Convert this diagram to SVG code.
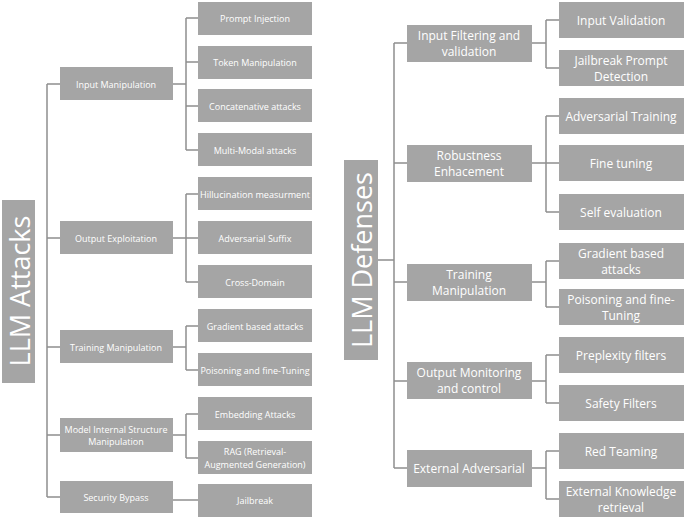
<svg xmlns="http://www.w3.org/2000/svg" width="685" height="520" viewBox="0 0 685 520">
<style>
rect{fill:#a5a5a5}
.c path{stroke:#8f8f8f;stroke-width:1.5;fill:none}
text{fill:#fff;font-family:"Open Sans","Liberation Sans",sans-serif;text-anchor:middle;dominant-baseline:central}
.s{font-size:9px}
.m{font-size:12px}
.r{font-size:27px}
</style>
<rect width="685" height="520" style="fill:#fff"/>
<g class="c">
<path d="M47 84V497M47 84H60M47 238H60M47 347H60M47 435H60M47 497H60"/>
<path d="M173 84H186M186 18V150M186 18H198M186 62H198M186 106H198M186 150H198"/>
<path d="M173 238H198M186 194V282M186 194H198M186 282H198"/>
<path d="M173 347H186M186 326V370M186 326H198M186 370H198"/>
<path d="M173 435H186M186 414V458M186 414H198M186 458H198"/>
<path d="M173 500H198"/>
<path d="M378 260H394M394 43V468M394 43H407M394 163H407M394 282H407M394 381H407M394 468H407"/>
<path d="M532 43H546M546 20V68M546 20H559M546 68H559"/>
<path d="M532 163H559M546 116V212M546 116H559M546 212H559"/>
<path d="M532 282H546M546 261V307M546 261H559M546 307H559"/>
<path d="M532 381H546M546 355V403M546 355H559M546 403H559"/>
<path d="M532 468H546M546 451V499M546 451H559M546 499H559"/>
</g>
<g id="attacks"><rect x="2" y="200" width="33" height="183"/><text class="r" transform="translate(19 291) rotate(-90)">LLM Attacks</text></g>
<g id="a1"><rect x="60" y="67" width="113" height="33"/><text class="s" x="116" y="84">Input Manipulation</text></g>
<g id="a2"><rect x="60" y="221" width="113" height="33"/><text class="s" x="116" y="238">Output Exploitation</text></g>
<g id="a3"><rect x="60" y="330" width="113" height="33"/><text class="s" x="116" y="347">Training Manipulation</text></g>
<g id="a4"><rect x="60" y="418" width="113" height="34"/><text class="s" x="116" y="429">Model Internal Structure</text><text class="s" x="116" y="441">Manipulation</text></g>
<g id="a5"><rect x="60" y="481" width="113" height="32"/><text class="s" x="116" y="497">Security Bypass</text></g>
<g id="b1"><rect x="198" y="2" width="114" height="33"/><text class="s" x="255" y="18">Prompt Injection</text></g>
<g id="b2"><rect x="198" y="46" width="114" height="33"/><text class="s" x="255" y="62">Token Manipulation</text></g>
<g id="b3"><rect x="198" y="89" width="114" height="33"/><text class="s" x="255" y="106">Concatenative attacks</text></g>
<g id="b4"><rect x="198" y="133" width="114" height="33"/><text class="s" x="255" y="150">Multi-Modal attacks</text></g>
<g id="b5"><rect x="198" y="177" width="114" height="33"/><text class="s" x="255" y="194" textLength="110" lengthAdjust="spacingAndGlyphs">Hillucination measurment</text></g>
<g id="b6"><rect x="198" y="221" width="114" height="33"/><text class="s" x="255" y="238">Adversarial Suffix</text></g>
<g id="b7"><rect x="198" y="265" width="114" height="33"/><text class="s" x="255" y="282">Cross-Domain</text></g>
<g id="b8"><rect x="198" y="309" width="114" height="33"/><text class="s" x="255" y="326">Gradient based attacks</text></g>
<g id="b9"><rect x="198" y="353" width="114" height="33"/><text class="s" x="255" y="370">Poisoning and fine-Tuning</text></g>
<g id="b10"><rect x="198" y="397" width="114" height="33"/><text class="s" x="255" y="414">Embedding Attacks</text></g>
<g id="b11"><rect x="198" y="441" width="114" height="33"/><text class="s" x="255" y="451">RAG (Retrieval-</text><text class="s" x="255" y="464">Augmented Generation)</text></g>
<g id="b12"><rect x="198" y="484" width="114" height="33"/><text class="s" x="255" y="500">Jailbreak</text></g>
<g id="defenses"><rect x="344" y="160" width="34" height="200"/><text class="r" transform="translate(361 260) rotate(-90)">LLM Defenses</text></g>
<g id="d1"><rect x="407" y="25" width="125" height="37"/><text class="m" x="469" y="35">Input Filtering and</text><text class="m" x="469" y="51">validation</text></g>
<g id="d2"><rect x="407" y="145" width="125" height="37"/><text class="m" x="469" y="155">Robustness</text><text class="m" x="469" y="171">Enhacement</text></g>
<g id="d3"><rect x="407" y="264" width="125" height="37"/><text class="m" x="469" y="274">Training</text><text class="m" x="469" y="290">Manipulation</text></g>
<g id="d4"><rect x="407" y="362" width="125" height="37"/><text class="m" x="469" y="372">Output Monitoring</text><text class="m" x="469" y="388">and control</text></g>
<g id="d5"><rect x="407" y="450" width="125" height="37"/><text class="m" x="469" y="468">External Adversarial</text></g>
<g id="e1"><rect x="559" y="2" width="125" height="36"/><text class="m" x="621" y="20">Input Validation</text></g>
<g id="e2"><rect x="559" y="50" width="125" height="36"/><text class="m" x="621" y="60">Jailbreak Prompt</text><text class="m" x="621" y="76">Detection</text></g>
<g id="e3"><rect x="559" y="98" width="125" height="36"/><text class="m" x="621" y="116">Adversarial Training</text></g>
<g id="e4"><rect x="559" y="145" width="125" height="36"/><text class="m" x="621" y="163">Fine tuning</text></g>
<g id="e5"><rect x="559" y="194" width="125" height="36"/><text class="m" x="621" y="212">Self evaluation</text></g>
<g id="e6"><rect x="559" y="243" width="125" height="36"/><text class="m" x="621" y="253">Gradient based</text><text class="m" x="621" y="269">attacks</text></g>
<g id="e7"><rect x="559" y="289" width="125" height="36"/><text class="m" x="621" y="299">Poisoning and fine-</text><text class="m" x="621" y="315">Tuning</text></g>
<g id="e8"><rect x="559" y="337" width="125" height="36"/><text class="m" x="621" y="355">Preplexity filters</text></g>
<g id="e9"><rect x="559" y="385" width="125" height="36"/><text class="m" x="621" y="403">Safety Filters</text></g>
<g id="e10"><rect x="559" y="433" width="125" height="36"/><text class="m" x="621" y="451">Red Teaming</text></g>
<g id="e11"><rect x="559" y="481" width="125" height="36"/><text class="m" x="621" y="491">External Knowledge</text><text class="m" x="621" y="507">retrieval</text></g>
</svg>
